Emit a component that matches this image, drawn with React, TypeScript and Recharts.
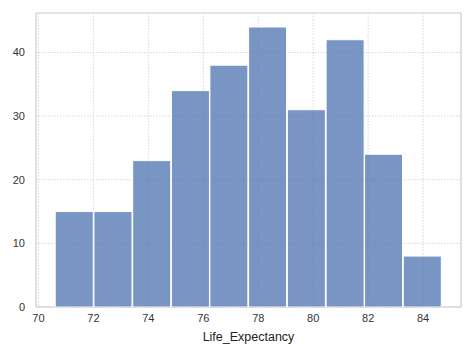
import React from 'react';
import { ComposedChart, Bar, XAxis, YAxis, CartesianGrid, ReferenceArea } from 'recharts';

const binCenters = [71.31, 72.72, 74.13, 75.54, 76.94, 78.35, 79.76, 81.17, 82.57, 83.98];
const counts = [15, 15, 23, 34, 38, 44, 31, 42, 24, 8];
const xTicks = [70, 72, 74, 76, 78, 80, 82, 84];
const yTicks = [0, 10, 20, 30, 40];
const xDomain: [number, number] = [69.91, 85.38];
const yDomain: [number, number] = [0, 46.2];

const data = binCenters.map((c, i) => ({ mid: c, count: counts[i] }));

const FONT = '"Liberation Sans", Arial, sans-serif';

export default function App() {
  return (
    <div style={{ position: 'absolute', left: 0, top: 0, background: '#fff' }}>
      <ComposedChart
        width={474}
        height={355}
        data={data}
        margin={{ top: 13, right: 13, bottom: 0, left: 0 }}
        barCategoryGap={0}
        barGap={0}
      >
        <CartesianGrid stroke="#d6d6d6" strokeDasharray="1.5 1.5" verticalValues={xTicks} horizontalValues={yTicks} />
        <XAxis
          dataKey="mid"
          type="number"
          domain={xDomain}
          ticks={xTicks}
          allowDataOverflow
          height={48}
          tickLine={false}
          tickSize={5}
          tickMargin={2}
          axisLine={false}
          tick={{ fill: '#333333', fontSize: 11, fontFamily: FONT }}
          label={{ value: 'Life_Expectancy', position: 'insideBottom', offset: 14, fill: '#222222', fontSize: 12.5, fontFamily: FONT }}
        />
        <YAxis
          type="number"
          domain={yDomain}
          ticks={yTicks}
          allowDataOverflow
          width={36}
          tickLine={false}
          tickSize={9}
          tickMargin={2}
          axisLine={false}
          tick={{ fill: '#333333', fontSize: 11, fontFamily: FONT }}
        />
        <Bar
          dataKey="count"
          fill="#4C72B0"
          fillOpacity={0.75}
          stroke="#ffffff"
          strokeWidth={1}
          isAnimationActive={false}
        />
        <ReferenceArea
          x1={xDomain[0]}
          x2={xDomain[1]}
          y1={yDomain[0]}
          y2={yDomain[1]}
          fill="none"
          fillOpacity={0}
          stroke="#cccccc"
          strokeWidth={1.2}
          ifOverflow="visible"
        />
      </ComposedChart>
    </div>
  );
}
